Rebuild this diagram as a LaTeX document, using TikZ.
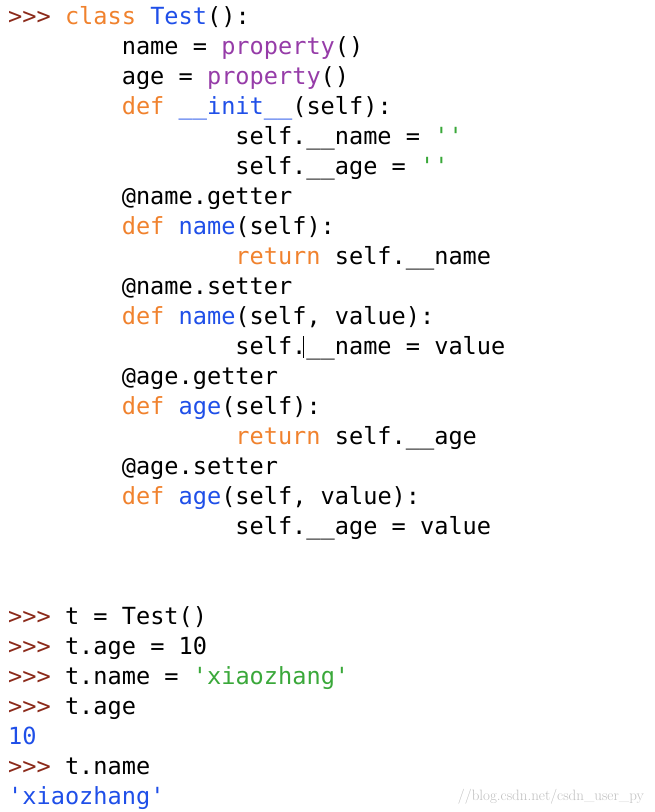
\documentclass[tikz,border=0pt]{standalone}
\usepackage{fontspec}
\setmonofont{DejaVu Sans Mono}
\definecolor{pr}{HTML}{8B2A1A}
\definecolor{kw}{HTML}{F0822E}
\definecolor{fn}{HTML}{1F4FE8}
\definecolor{pp}{HTML}{963CA8}
\definecolor{st}{HTML}{3AA83A}
\newcommand{\us}{\char95}
\newcommand{\q}{\char39}
\newcommand{\pr}{\textcolor{pr}{>>>}}
\newcommand{\kw}[1]{\textcolor{kw}{#1}}
\newcommand{\fn}[1]{\textcolor{fn}{#1}}
\newcommand{\pp}[1]{\textcolor{pp}{#1}}
\newcommand{\st}[1]{\textcolor{st}{#1}}
\begin{document}
\begin{tikzpicture}[x=1pt, y=-1pt,
	code/.style={anchor=base west, inner sep=0pt, font=\fontsize{23.6}{28}\ttfamily}
	]
	\useasboundingbox (0,0) rectangle (654,812);
	% class body
	\node [code] (l0) at (8,24) {\pr{} \kw{class} \fn{Test}():};
	\node [code] (l1) at (121.6,54) {name = \pp{property}()};
	\node [code] (l2) at (121.6,84) {age = \pp{property}()};
	\node [code] (l3) at (121.6,114) {\kw{def} \fn{\us\us init\us\us}(self):};
	\node [code] (l4) at (235.2,144) {self.\us\us name = \st{\q\q}};
	\node [code] (l5) at (235.2,174) {self.\us\us age = \st{\q\q}};
	\node [code] (l6) at (121.6,204) {@name.getter};
	\node [code] (l7) at (121.6,234) {\kw{def} \fn{name}(self):};
	\node [code] (l8) at (235.2,264) {\kw{return} self.\us\us name};
	\node [code] (l9) at (121.6,294) {@name.setter};
	\node [code] (l10) at (121.6,324) {\kw{def} \fn{name}(self, value):};
	\node [code] (l11) at (235.2,354) {self.\us\us name = value};
	\node [code] (l12) at (121.6,384) {@age.getter};
	\node [code] (l13) at (121.6,414) {\kw{def} \fn{age}(self):};
	\node [code] (l14) at (235.2,444) {\kw{return} self.\us\us age};
	\node [code] (l15) at (121.6,474) {@age.setter};
	\node [code] (l16) at (121.6,504) {\kw{def} \fn{age}(self, value):};
	\node [code] (l17) at (235.2,534) {self.\us\us age = value};
	% cursor
	\draw [line width=1pt] (303,336) -- (303,358);
	% session
	\node [code] (l20) at (8,624) {\pr{} t = Test()};
	\node [code] (l21) at (8,654) {\pr{} t.age = 10};
	\node [code] (l22) at (8,684) {\pr{} t.name = \st{\q xiaozhang\q}};
	\node [code] (l23) at (8,714) {\pr{} t.age};
	\node [code] (l24) at (8,744) {\fn{10}};
	\node [code] (l25) at (8,774) {\pr{} t.name};
	\node [code] (l26) at (8,804) {\fn{\q xiaozhang\q}};
	\node [anchor=base east, inner sep=0pt, text=black!25, font=\fontsize{15}{18}\selectfont] (wm) at (644,800) {//blog.csdn.net/csdn\_user\_py};
\end{tikzpicture}
\end{document}
